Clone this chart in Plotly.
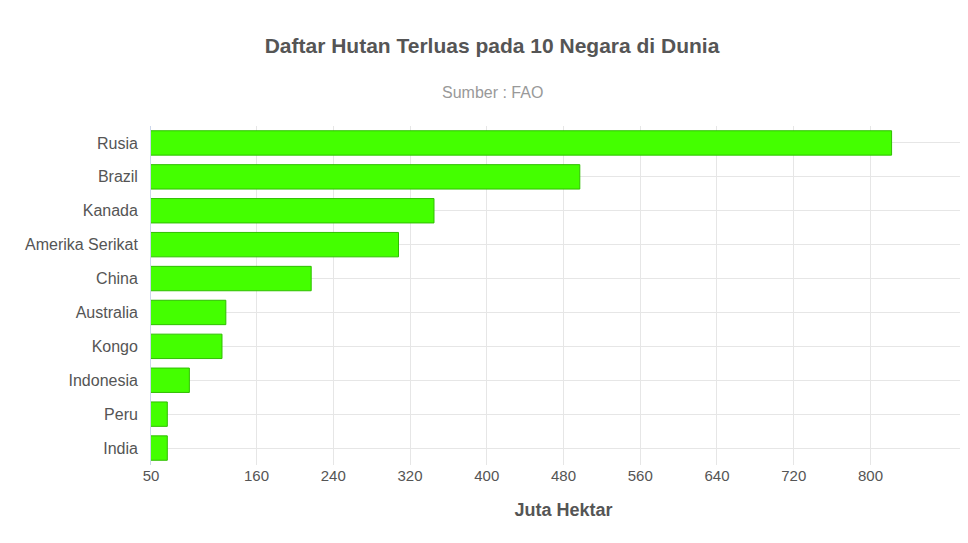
import plotly.graph_objects as go

countries = ["Rusia", "Brazil", "Kanada", "Amerika Serikat", "China", "Australia", "Kongo", "Indonesia", "Peru", "India"]
values = [822, 497, 345, 308, 217, 128, 124, 90, 67, 67]
tick_vals = [50, 160, 240, 320, 400, 480, 560, 640, 720, 800, 900]

fig = go.Figure(go.Bar(
    y=countries, x=values, orientation="h",
    marker=dict(color="#44ff00", line=dict(color="#2fbf00", width=1)),
))
fig.update_layout(
    width=968, height=543,
    paper_bgcolor="white", plot_bgcolor="white",
    margin=dict(l=143, r=0, t=118, b=86, autoexpand=False),
    font=dict(family="Liberation Sans, Arial", size=16, color="#555"),
    title=dict(text="<b>Daftar Hutan Terluas pada 10 Negara di Dunia</b>", x=0.5, xref="container", xanchor="center",
               y=0.945, font=dict(size=21, color="#555")),
    annotations=[dict(text="Sumber : FAO", x=0.5, xref="paper", xanchor="center", y=1.1, yref="paper",
                      yanchor="middle", showarrow=False, font=dict(size=16, color="#999"))],
    bargap=0.28, showlegend=False,
)
fig.layout.annotations[0].update(x=(484 - 143) / 825)
fig.update_xaxes(range=[50, 910], tickvals=tick_vals, showgrid=True, gridcolor="#e6e6e6", automargin=False,
                 zeroline=False, ticks="", title=dict(text="<b>Juta Hektar</b>", standoff=20, font=dict(size=18, color="#555")),
                 tickfont=dict(size=15, color="#555"))
fig.update_yaxes(autorange="reversed", showgrid=True, gridcolor="#e6e6e6", ticks="", automargin=False,
                 showline=True, linecolor="#ccd6eb", tickfont=dict(size=16, color="#555"), ticksuffix="  ")
fig.write_html("out.html")
